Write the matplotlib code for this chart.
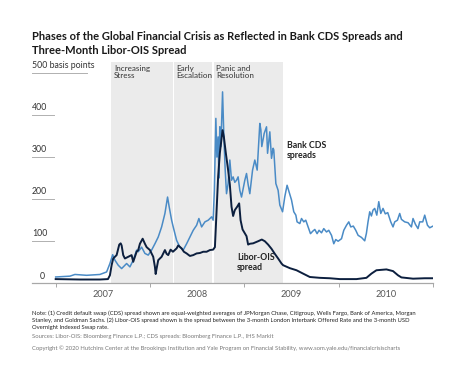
import matplotlib
matplotlib.use("Agg")
import matplotlib.pyplot as plt
import matplotlib.transforms as mtransforms

plt.rcParams["font.family"] = ["Lato", "DejaVu Sans"]

# dates as decimal years, spreads in basis points
cds_t = [2007.000, 2007.151, 2007.204, 2007.328, 2007.469, 2007.540, 2007.575, 2007.604,
         2007.628, 2007.663, 2007.699, 2007.752, 2007.787, 2007.822, 2007.858, 2007.875,
         2007.911, 2007.946, 2007.981, 2008.017, 2008.052, 2008.087, 2008.123, 2008.158,
         2008.186, 2008.203, 2008.229, 2008.246, 2008.282, 2008.317, 2008.352, 2008.388,
         2008.423, 2008.458, 2008.494, 2008.518, 2008.547, 2008.582, 2008.617, 2008.653,
         2008.669, 2008.682, 2008.698, 2008.709, 2008.722, 2008.730, 2008.740, 2008.751,
         2008.769, 2008.783, 2008.797, 2008.811, 2008.828, 2008.846, 2008.864, 2008.881,
         2008.899, 2008.917, 2008.934, 2008.952, 2008.970, 2008.987, 2009.005, 2009.023,
         2009.040, 2009.058, 2009.087, 2009.111, 2009.136, 2009.164, 2009.175, 2009.185,
         2009.210, 2009.235, 2009.246, 2009.270, 2009.288, 2009.305, 2009.312, 2009.334,
         2009.358, 2009.376, 2009.405, 2009.429, 2009.453, 2009.475, 2009.500, 2009.524,
         2009.546, 2009.559, 2009.588, 2009.606, 2009.630, 2009.651, 2009.676, 2009.701,
         2009.726, 2009.747, 2009.771, 2009.792, 2009.818, 2009.842, 2009.871, 2009.895,
         2009.924, 2009.948, 2009.969, 2009.994, 2010.030, 2010.054, 2010.083, 2010.107,
         2010.128, 2010.155, 2010.181, 2010.206, 2010.242, 2010.276, 2010.294, 2010.311,
         2010.329, 2010.347, 2010.364, 2010.382, 2010.404, 2010.425, 2010.446, 2010.470,
         2010.494, 2010.520, 2010.552, 2010.576, 2010.594, 2010.623, 2010.647, 2010.665,
         2010.700, 2010.735, 2010.771, 2010.788, 2010.814, 2010.841, 2010.859, 2010.891,
         2010.912, 2010.941, 2010.965, 2011.000]
cds_bp = [15, 17, 21, 19, 21, 27, 47, 68,
          55, 43, 35, 47, 39, 55, 79, 75,
          86, 71, 67, 79, 94, 110, 134, 166,
          205, 182, 150, 134, 102, 86, 79, 94,
          110, 126, 138, 154, 134, 146, 150, 158,
          150, 220, 392, 300, 348, 250, 372, 325,
          455, 348, 269, 213, 237, 293, 245, 253,
          240, 245, 253, 221, 205, 225, 245, 261,
          235, 213, 269, 293, 269, 380, 365, 325,
          356, 372, 309, 360, 297, 321, 317, 237,
          221, 186, 170, 206, 233, 217, 198, 170,
          162, 146, 142, 154, 146, 150, 134, 118,
          124, 128, 118, 126, 120, 130, 122, 126,
          114, 94, 104, 100, 106, 126, 138, 146,
          134, 136, 126, 114, 109, 101, 119, 146,
          170, 160, 174, 178, 162, 194, 166, 178,
          165, 168, 146, 134, 146, 150, 166, 152,
          146, 144, 134, 154, 140, 130, 146, 146,
          162, 138, 132, 136]

ois_t = [2007.000, 2007.257, 2007.469, 2007.554, 2007.575, 2007.593, 2007.610, 2007.646,
         2007.674, 2007.689, 2007.699, 2007.716, 2007.734, 2007.769, 2007.805, 2007.822,
         2007.858, 2007.875, 2007.893, 2007.922, 2007.946, 2007.964, 2007.999, 2008.034,
         2008.052, 2008.060, 2008.070, 2008.087, 2008.123, 2008.158, 2008.176, 2008.193,
         2008.218, 2008.243, 2008.282, 2008.299, 2008.335, 2008.359, 2008.388, 2008.423,
         2008.458, 2008.494, 2008.529, 2008.564, 2008.600, 2008.635, 2008.669, 2008.688,
         2008.706, 2008.722, 2008.740, 2008.769, 2008.783, 2008.804, 2008.828, 2008.846,
         2008.864, 2008.881, 2008.899, 2008.924, 2008.945, 2008.960, 2008.981, 2009.023,
         2009.040, 2009.058, 2009.093, 2009.146, 2009.185, 2009.217, 2009.252, 2009.288,
         2009.323, 2009.358, 2009.394, 2009.411, 2009.482, 2009.553, 2009.623, 2009.694,
         2009.800, 2009.906, 2010.012, 2010.189, 2010.294, 2010.347, 2010.400, 2010.506,
         2010.576, 2010.629, 2010.665, 2010.788, 2010.912, 2011.000]
ois_bp = [10, 9, 9, 10, 19, 43, 59, 67,
          92, 95, 90, 67, 59, 63, 67, 51,
          75, 79, 94, 106, 94, 86, 79, 63,
          39, 22, 35, 55, 63, 79, 70, 67,
          80, 75, 83, 90, 83, 75, 71, 65,
          67, 71, 72, 75, 75, 79, 80, 86,
          174, 253, 309, 364, 348, 309, 269, 235,
          182, 160, 174, 182, 190, 150, 128, 112,
          92, 94, 95, 100, 104, 100, 92, 82,
          70, 59, 47, 43, 36, 31, 23, 15,
          13, 12, 10, 10, 13, 23, 31, 33,
          29, 19, 14, 11, 12, 12]

phase_names = ["Increasing\nStress", "Early\nEscalation", "Panic and\nResolution"]
phase_start = [2007.586, 2008.253, 2008.674]
phase_end = [2008.239, 2008.656, 2009.411]

years = [2007, 2008, 2009, 2010]
y_levels = [0, 100, 200, 300, 400, 500]

fig = plt.figure(figsize=(4.74, 3.66), dpi=100)
ax = fig.add_axes([32 / 474, 1 - 283.3 / 366, 401.3 / 474, 221.3 / 366])

for s, e, name in zip(phase_start, phase_end, phase_names):
    ax.axvspan(s, e, color="#ebebeb", lw=0, zorder=0)
    ax.text(s + 0.03, 520, name, fontsize=5.8, color="#333333", va="top", ha="left",
            linespacing=1.05)

ax.plot(cds_t, cds_bp, color="#4a8bc6", lw=1.1, zorder=3)
ax.plot(ois_t, ois_bp, color="#0c1f3e", lw=1.4, zorder=4)

ax.set_xlim(2006.749, 2011.003)
ax.set_ylim(0, 526)

for sp in ["top", "right", "left"]:
    ax.spines[sp].set_visible(False)
ax.spines["bottom"].set_color("#a8a8a8")
ax.spines["bottom"].set_linewidth(0.9)

ax.set_yticks([])
ax.set_xticks(years + [2011])
ax.set_xticklabels([])
ax.tick_params(axis="x", which="major", length=3, width=0.7, color="#a8a8a8")
ax.set_xticks([y + 0.5 for y in years], minor=True)
ax.set_xticklabels([str(y) for y in years], minor=True)
ax.tick_params(axis="x", which="minor", length=0, pad=5, labelsize=6.6, labelcolor="#555555")

trans = mtransforms.blended_transform_factory(ax.transAxes, ax.transData)
for v in y_levels[1:]:
    stub = 0.137 if v == 500 else 0.055
    ax.plot([0, stub], [v, v], transform=trans, color="#b0b0b0", lw=0.7, clip_on=False)
    label = "500 basis points" if v == 500 else str(v)
    ax.annotate(label, (0, v), xycoords=trans, xytext=(0, 2), textcoords="offset points",
                fontsize=6.3, color="#333333", va="bottom", ha="left")
ax.annotate("0", (0.02, 0), xycoords=trans, xytext=(0, 2), textcoords="offset points",
            fontsize=6.3, color="#333333", va="bottom", ha="left")

ax.text(2009.453, 315, "Bank CDS\nspreads", fontsize=6.3, fontweight="bold",
        color="#222222", va="center", ha="left", linespacing=1.1)
ax.text(2008.924, 50, "Libor-OIS\nspread", fontsize=6.3, fontweight="bold",
        color="#222222", va="center", ha="left", linespacing=1.1)

fig.text(32 / 474, 1 - 36 / 366, "Phases of the Global Financial Crisis as Reflected in Bank CDS Spreads and",
         fontsize=8.0, fontweight="bold", color="#1a1a1a", va="center", ha="left")
fig.text(32 / 474, 1 - 50 / 366, "Three-Month Libor-OIS Spread",
         fontsize=8.0, fontweight="bold", color="#1a1a1a", va="center", ha="left")

notes = [
    "Note: (1) Credit default swap (CDS) spread shown are equal-weighted averages of JPMorgan Chase, Citigroup, Wells Fargo, Bank of America, Morgan",
    "Stanley, and Goldman Sachs. (2) Libor-OIS spread shown is the spread between the 3-month London Interbank Offered Rate and the 3-month USD",
    "Overnight Indexed Swap rate.",
]
for i, line in enumerate(notes):
    fig.text(32 / 474, 1 - (313.3 + 7 * i) / 366, line, fontsize=4.2, color="#222222",
             va="center", ha="left")
fig.text(32 / 474, 1 - 336.7 / 366,
         "Sources: Libor-OIS: Bloomberg Finance L.P.; CDS spreads: Bloomberg Finance L.P., IHS Markit",
         fontsize=4.2, color="#777777", va="center", ha="left")
fig.text(32 / 474, 1 - 347.7 / 366,
         "Copyright \u00a9 2020 Hutchins Center at the Brookings Institution and Yale Program on Financial Stability, www.som.yale.edu/financialcrisischarts",
         fontsize=4.2, color="#777777", va="center", ha="left")

fig.savefig("out.png", dpi=100)
